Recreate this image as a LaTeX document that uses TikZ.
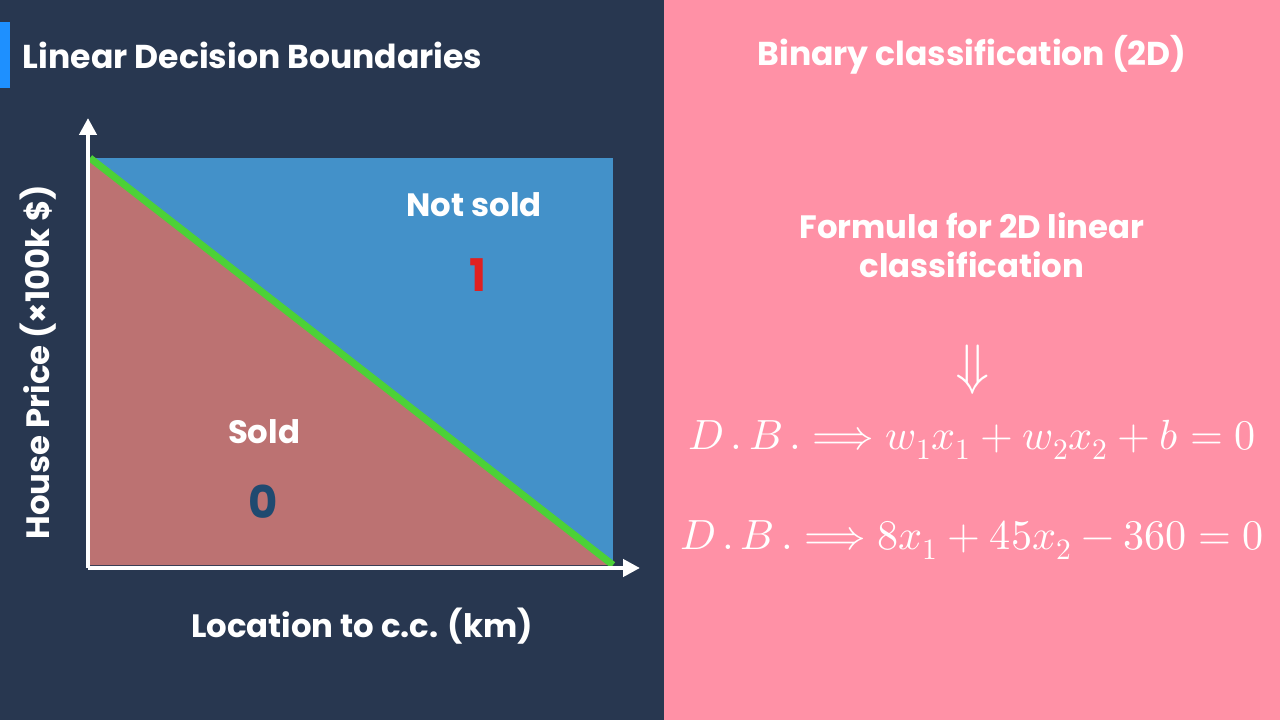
\documentclass[tikz,border=0pt]{standalone}
\usepackage{amsmath}
\usepackage{fontspec}
\usepackage{unicode-math}
\setmainfont{Poppins}
\setmathfont{Latin Modern Math}
\usetikzlibrary{arrows.meta}
\definecolor{navy}{HTML}{283750}
\definecolor{pinkbg}{HTML}{FF91A6}
\definecolor{accent}{HTML}{1E90FF}
\definecolor{notsoldblue}{HTML}{4391C9}
\definecolor{soldred}{HTML}{BC7272}
\definecolor{boundary}{HTML}{4CD137}
\definecolor{onered}{HTML}{E02020}
\definecolor{zeroblue}{HTML}{1F4A70}
\begin{document}
\begin{tikzpicture}[x=0.025cm, y=-0.025cm]
\tikzset{title/.style={text=white, font=\fontsize{23.5}{27}\selectfont\bfseries},
  label/.style={text=white, font=\fontsize{23}{28}\selectfont\bfseries, align=center},
  digit/.style={font=\fontsize{32}{36}\selectfont\bfseries},
  formula/.style={text=white, font=\fontsize{30}{36}\selectfont},
  axis/.style={white, line width=3.5pt, -{Triangle[length=12pt,width=12pt]}}}
 % panels
\fill[navy] (0,0) rectangle (664,720);
\fill[pinkbg] (664,0) rectangle (1280,720);
\fill[accent] (0,22) rectangle (10,88);
\useasboundingbox (0,0) rectangle (1280,720);
 % plot regions
\fill[notsoldblue] (90,158) rectangle (613,565);
\fill[soldred] (90,158) -- (90,565) -- (613,565) -- cycle;
\coordinate (btop) at (90,158);
\coordinate (bend) at (613,565);
\draw[boundary, line width=5pt] (btop) -- (bend);
 % axes
\coordinate (origin) at (88,568);
\coordinate (ytip) at (88,118);
\coordinate (xtip) at (640,568);
\draw[axis] (origin) -- (ytip);
\draw[axis] (origin) -- (xtip);
 % texts
\node (lefttitle) [title, anchor=west] at (18,55) {Linear Decision Boundaries};
\node (righttitle) [title] at (972,55) {Binary classification (2D)};
\node (ylabel) [label, rotate=90] at (38,362) {House Price (×100k \$)};
\node (xlabel) [label] at (362,626) {Location to c.c. (km)};
\node (notsold) [label] at (474,205) {Not sold};
\node (one) [digit, text=onered] at (478,275) {1};
\node (sold) [label] at (264,432) {Sold};
\node (zero) [digit, text=zeroblue] at (263,502) {0};
\node (formula) [label] at (972,245) {Formula for 2D linear\\classification};
\node (down) [formula, font=\fontsize{40}{44}\selectfont] at (973,370) {$\Downarrow$};
\node (dbgen) [formula] at (972,440) {$D\,.\,B\,.\Longrightarrow w_1x_1+w_2x_2+b=0$};
\node (dbnum) [formula] at (972,540) {$D\,.\,B\,.\Longrightarrow 8x_1+45x_2-360=0$};
\end{tikzpicture}
\end{document}
